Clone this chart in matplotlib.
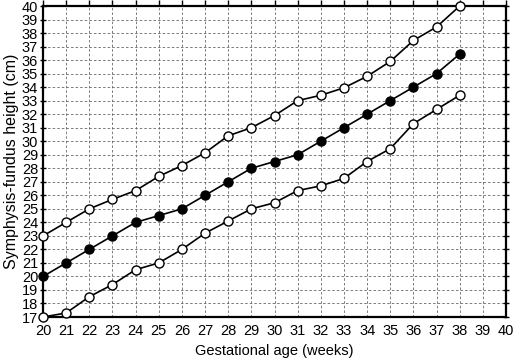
from matplotlib import pyplot as plt

weeks = list(range(20, 39))
upper = [23, 24, 25, 25.7, 26.35, 27.4, 28.2, 29.15, 30.4, 31, 31.9, 33, 33.4, 33.95, 34.8, 35.9, 37.45, 38.45, 40]
median = [20, 21, 22, 23, 24, 24.5, 25, 26, 27, 28, 28.5, 29, 30, 31, 32, 33, 34, 35, 36.45]
lower = [17, 17.3, 18.5, 19.4, 20.5, 21, 22, 23.2, 24.1, 25, 25.45, 26.35, 26.7, 27.25, 28.5, 29.45, 31.3, 32.35, 33.4]

plt.rcParams['font.family'] = ['Liberation Sans', 'DejaVu Sans']

fig = plt.figure(figsize=(5.17, 3.6), dpi=100)
ax = fig.add_axes([0.0832, 0.1194, 0.8955, 0.8639])

ax.plot(weeks, upper, '-o', color='black', lw=1.2, ms=6.5, mfc='white', mec='black', mew=1, clip_on=False, zorder=3)
ax.plot(weeks, median, '-o', color='black', lw=1.2, ms=6.5, mfc='black', mec='black', clip_on=False, zorder=3)
ax.plot(weeks, lower, '-o', color='black', lw=1.2, ms=6.5, mfc='white', mec='black', mew=1, clip_on=False, zorder=3)

ax.set_xlim(20, 40)
ax.set_ylim(17, 40)
ax.set_xticks(range(20, 41))
ax.set_yticks(range(17, 41))
ax.grid(True, color='#666666', linestyle=(0, (3, 2.5)), linewidth=0.6)
ax.set_axisbelow(True)

for s in ax.spines.values():
    s.set_linewidth(1.6)

ax.tick_params(axis='both', labelsize=10.5, width=1, length=4, pad=1.5)
ax.tick_params(axis='x', top=True, direction='out')
ax.tick_params(axis='x', bottom=False, pad=1)
ax.tick_params(axis='y', right=True, direction='inout')

ax.set_xlabel('Gestational age (weeks)', fontsize=10.5, labelpad=4)
ax.set_ylabel('Symphysis-fundus height (cm)', fontsize=11.5, labelpad=2)

plt.savefig('out.png', dpi=100)
